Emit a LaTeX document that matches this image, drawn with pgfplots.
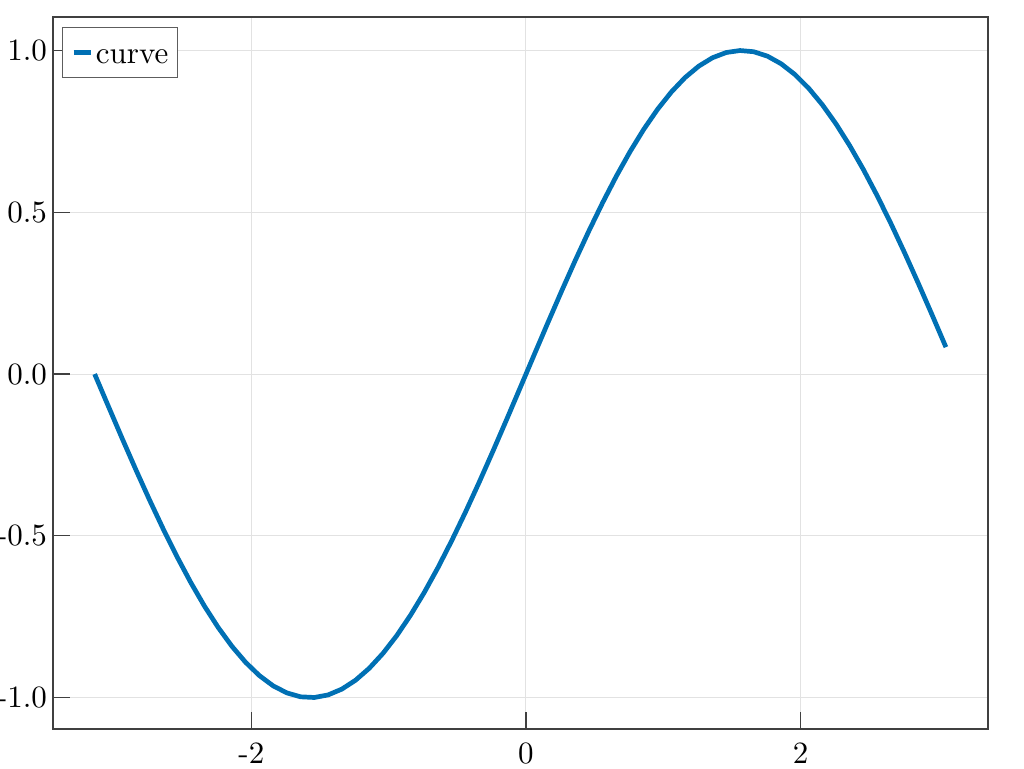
\documentclass[border=0pt]{standalone}
\usepackage{pgfplots}
\pgfplotsset{compat=1.18}
\definecolor{curveblue}{RGB}{0,112,180}
\definecolor{framegray}{RGB}{64,64,64}
\definecolor{gridgray}{RGB}{226,226,226}
\font\tickfont="[lmroman10-regular.otf]" at 15.5pt
\begin{document}
\begin{tikzpicture}
\begin{axis}[
  at={(0,0)}, anchor=south west,
  scale only axis,
  width=467.5pt, height=356pt,
  xmin=-3.445, xmax=3.365,
  ymin=-1.097, ymax=1.1035,
  xtick={-2,0,2}, xticklabels={-2,0,2},
  ytick={-1,-0.5,0,0.5,1}, yticklabels={-1.0,-0.5,0.0,0.5,1.0},
  tick pos=left, tick align=inside,
  major tick length=8.5pt,
  every tick/.style={framegray, line width=0.6pt},
  axis line style={framegray, line width=0.8pt},
  grid=major,
  major grid style={gridgray, line width=0.5pt},
  tick label style={font=\tickfont, inner sep=0pt},
  xticklabel style={anchor=north, yshift=-6.5pt},
  yticklabel style={anchor=east, xshift=-2.8pt},
  legend style={at={(0,1)}, anchor=north west, xshift=4.5pt, yshift=-5pt,
    draw=framegray!85, line width=0.5pt,
    font=\tickfont,
    inner xsep=4.5pt, inner ysep=0pt,
    nodes={inner sep=0pt, text height=18pt, text depth=7pt}},
  legend image code/.code={\draw[#1, line width=2.2pt] (-1pt,0pt) -- (7.5pt,0pt);},
]
\addplot[curveblue, line width=2.35pt] coordinates {
(-3.1416,0.0000) (-3.0416,-0.0998) (-2.9416,-0.1987) (-2.8416,-0.2955)
(-2.7416,-0.3894) (-2.6416,-0.4794) (-2.5416,-0.5646) (-2.4416,-0.6442)
(-2.3416,-0.7174) (-2.2416,-0.7833) (-2.1416,-0.8415) (-2.0416,-0.8912)
(-1.9416,-0.9320) (-1.8416,-0.9636) (-1.7416,-0.9854) (-1.6416,-0.9975)
(-1.5416,-0.9996) (-1.4416,-0.9917) (-1.3416,-0.9738) (-1.2416,-0.9463)
(-1.1416,-0.9093) (-1.0416,-0.8632) (-0.9416,-0.8085) (-0.8416,-0.7457)
(-0.7416,-0.6755) (-0.6416,-0.5985) (-0.5416,-0.5155) (-0.4416,-0.4274)
(-0.3416,-0.3350) (-0.2416,-0.2392) (-0.1416,-0.1411) (-0.0416,-0.0416)
(0.0584,0.0584) (0.1584,0.1577) (0.2584,0.2555) (0.3584,0.3508)
(0.4584,0.4425) (0.5584,0.5298) (0.6584,0.6119) (0.7584,0.6878)
(0.8584,0.7568) (0.9584,0.8183) (1.0584,0.8716) (1.1584,0.9162)
(1.2584,0.9516) (1.3584,0.9776) (1.4584,0.9937) (1.5584,0.9999)
(1.6584,0.9962) (1.7584,0.9825) (1.8584,0.9589) (1.9584,0.9258)
(2.0584,0.8835) (2.1584,0.8323) (2.2584,0.7728) (2.3584,0.7055)
(2.4584,0.6313) (2.5584,0.5507) (2.6584,0.4646) (2.7584,0.3739)
(2.8584,0.2794) (2.9584,0.1822) (3.0584,0.0831)
};
\addlegendentry{\hspace{1.5pt}curve}
\end{axis}
\pgfresetboundingbox
\useasboundingbox (-26.5pt,-19.5pt) rectangle (485.5pt,364.5pt);
\end{tikzpicture}
\end{document}
